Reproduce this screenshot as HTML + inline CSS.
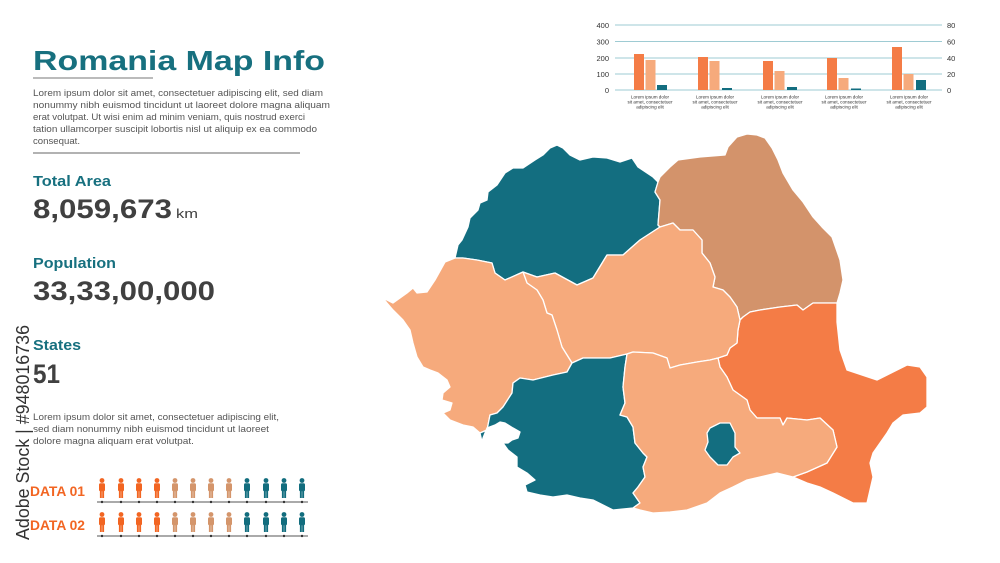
<!DOCTYPE html>
<html><head><meta charset="utf-8"><style>
html,body{margin:0;padding:0;background:#fff;}
svg{display:block;}
text{font-family:"Liberation Sans",sans-serif;}
</style></head><body>
<svg width="1000" height="563" viewBox="0 0 1000 563" xmlns="http://www.w3.org/2000/svg">
<rect width="1000" height="563" fill="#fff"/>

<!-- Title -->
<text x="33" y="70" font-size="28" font-weight="bold" fill="#17707f" textLength="292" lengthAdjust="spacingAndGlyphs">Romania Map Info</text>
<line x1="33" y1="78" x2="153" y2="78" stroke="#777" stroke-width="1"/>
<g font-size="9.5" fill="#555">
<text x="33" y="96" textLength="290" lengthAdjust="spacingAndGlyphs">Lorem ipsum dolor sit amet, consectetuer adipiscing elit, sed diam</text>
<text x="33" y="108" textLength="297" lengthAdjust="spacingAndGlyphs">nonummy nibh euismod tincidunt ut laoreet dolore magna aliquam</text>
<text x="33" y="120" textLength="272" lengthAdjust="spacingAndGlyphs">erat volutpat. Ut wisi enim ad minim veniam, quis nostrud exerci</text>
<text x="33" y="132" textLength="284" lengthAdjust="spacingAndGlyphs">tation ullamcorper suscipit lobortis nisl ut aliquip ex ea commodo</text>
<text x="33" y="144" textLength="47" lengthAdjust="spacingAndGlyphs">consequat.</text>
</g>
<line x1="33" y1="153" x2="300" y2="153" stroke="#666" stroke-width="1"/>

<!-- Stats -->
<text x="33" y="186" font-size="15" font-weight="bold" fill="#17707f" textLength="78" lengthAdjust="spacingAndGlyphs">Total Area</text>
<text x="33" y="218" font-size="27" font-weight="bold" fill="#404040" textLength="139" lengthAdjust="spacingAndGlyphs">8,059,673</text>
<text x="176" y="218" font-size="13" fill="#404040" textLength="22" lengthAdjust="spacingAndGlyphs">km</text>
<text x="33" y="268" font-size="15" font-weight="bold" fill="#17707f" textLength="83" lengthAdjust="spacingAndGlyphs">Population</text>
<text x="33" y="300" font-size="27" font-weight="bold" fill="#404040" textLength="182" lengthAdjust="spacingAndGlyphs">33,33,00,000</text>
<text x="33" y="350" font-size="15" font-weight="bold" fill="#17707f" textLength="48" lengthAdjust="spacingAndGlyphs">States</text>
<text x="33" y="383" font-size="27" font-weight="bold" fill="#404040" textLength="27" lengthAdjust="spacingAndGlyphs">51</text>
<g font-size="9.5" fill="#555">
<text x="33" y="420" textLength="246" lengthAdjust="spacingAndGlyphs">Lorem ipsum dolor sit amet, consectetuer adipiscing elit,</text>
<text x="33" y="432" textLength="236" lengthAdjust="spacingAndGlyphs">sed diam nonummy nibh euismod tincidunt ut laoreet</text>
<text x="33" y="444" textLength="161" lengthAdjust="spacingAndGlyphs">dolore magna aliquam erat volutpat.</text>
</g>

<!-- Data rows -->
<defs>
<g id="p">
<circle cx="0" cy="2.5" r="2.4"/>
<rect x="-3" y="5.3" width="6" height="8" rx="1.5"/>
<rect x="-2.1" y="11" width="1.9" height="9"/>
<rect x="0.2" y="11" width="1.9" height="9"/>
</g>
</defs>
<text x="30" y="496" font-size="13.5" font-weight="bold" fill="#f26522" textLength="55" lengthAdjust="spacingAndGlyphs">DATA 01</text>
<text x="30" y="530" font-size="13.5" font-weight="bold" fill="#f26522" textLength="55" lengthAdjust="spacingAndGlyphs">DATA 02</text>
<line x1="97" y1="502" x2="308" y2="502" stroke="#777" stroke-width="1.2"/>
<line x1="97" y1="536" x2="308" y2="536" stroke="#777" stroke-width="1.2"/>
<g>
<use href="#p" x="102" y="478" fill="#f26522"/><use href="#p" x="121" y="478" fill="#f26522"/><use href="#p" x="139" y="478" fill="#f26522"/><use href="#p" x="157" y="478" fill="#f26522"/>
<use href="#p" x="175" y="478" fill="#d4956b"/><use href="#p" x="193" y="478" fill="#d4956b"/><use href="#p" x="211" y="478" fill="#d4956b"/><use href="#p" x="229" y="478" fill="#d4956b"/>
<use href="#p" x="247" y="478" fill="#126d7e"/><use href="#p" x="266" y="478" fill="#126d7e"/><use href="#p" x="284" y="478" fill="#126d7e"/><use href="#p" x="302" y="478" fill="#126d7e"/>
<use href="#p" x="102" y="512" fill="#f26522"/><use href="#p" x="121" y="512" fill="#f26522"/><use href="#p" x="139" y="512" fill="#f26522"/><use href="#p" x="157" y="512" fill="#f26522"/>
<use href="#p" x="175" y="512" fill="#d4956b"/><use href="#p" x="193" y="512" fill="#d4956b"/><use href="#p" x="211" y="512" fill="#d4956b"/><use href="#p" x="229" y="512" fill="#d4956b"/>
<use href="#p" x="247" y="512" fill="#126d7e"/><use href="#p" x="266" y="512" fill="#126d7e"/><use href="#p" x="284" y="512" fill="#126d7e"/><use href="#p" x="302" y="512" fill="#126d7e"/>
</g>
<g fill="#333">
<circle cx="102" cy="502" r="1.2"/><circle cx="121" cy="502" r="1.2"/><circle cx="139" cy="502" r="1.2"/><circle cx="157" cy="502" r="1.2"/><circle cx="175" cy="502" r="1.2"/><circle cx="193" cy="502" r="1.2"/><circle cx="211" cy="502" r="1.2"/><circle cx="229" cy="502" r="1.2"/><circle cx="247" cy="502" r="1.2"/><circle cx="266" cy="502" r="1.2"/><circle cx="284" cy="502" r="1.2"/><circle cx="302" cy="502" r="1.2"/>
<circle cx="102" cy="536" r="1.2"/><circle cx="121" cy="536" r="1.2"/><circle cx="139" cy="536" r="1.2"/><circle cx="157" cy="536" r="1.2"/><circle cx="175" cy="536" r="1.2"/><circle cx="193" cy="536" r="1.2"/><circle cx="211" cy="536" r="1.2"/><circle cx="229" cy="536" r="1.2"/><circle cx="247" cy="536" r="1.2"/><circle cx="266" cy="536" r="1.2"/><circle cx="284" cy="536" r="1.2"/><circle cx="302" cy="536" r="1.2"/>
</g>

<!-- Vertical watermark -->
<text transform="translate(29,540) rotate(-90)" font-size="18" fill="#333" stroke="#fff" stroke-width="2.5" paint-order="stroke" textLength="215" lengthAdjust="spacingAndGlyphs">Adobe Stock | #948016736</text>

<!-- Bar chart -->
<g stroke="#9ecbd3" stroke-width="1">
<line x1="615" y1="25" x2="942" y2="25"/>
<line x1="615" y1="41.5" x2="942" y2="41.5"/>
<line x1="615" y1="58" x2="942" y2="58"/>
<line x1="615" y1="74" x2="942" y2="74"/>
<line x1="615" y1="90" x2="942" y2="90"/>
</g>
<g font-size="7.5" fill="#333" text-anchor="end">
<text x="609" y="28">400</text><text x="609" y="44.5">300</text><text x="609" y="61">200</text><text x="609" y="77">100</text><text x="609" y="93">0</text>
</g>
<g font-size="7.5" fill="#333">
<text x="947" y="28">80</text><text x="947" y="44.5">60</text><text x="947" y="61">40</text><text x="947" y="77">20</text><text x="947" y="93">0</text>
</g>
<g>
<rect x="634" y="54" width="10" height="36" fill="#f47c46"/><rect x="645.5" y="60" width="10" height="30" fill="#f6aa7c"/><rect x="657" y="85" width="10" height="5" fill="#136e80"/>
<rect x="698" y="57" width="10" height="33" fill="#f47c46"/><rect x="709.5" y="61" width="10" height="29" fill="#f6aa7c"/><rect x="722" y="88" width="10" height="2" fill="#136e80"/>
<rect x="763" y="61" width="10" height="29" fill="#f47c46"/><rect x="774.5" y="71" width="10" height="19" fill="#f6aa7c"/><rect x="787" y="87" width="10" height="3" fill="#136e80"/>
<rect x="827" y="58" width="10" height="32" fill="#f47c46"/><rect x="838.5" y="78" width="10" height="12" fill="#f6aa7c"/><rect x="851" y="88.5" width="10" height="1.5" fill="#136e80"/>
<rect x="892" y="47" width="10" height="43" fill="#f47c46"/><rect x="903.5" y="74" width="10" height="16" fill="#f6aa7c"/><rect x="916" y="80" width="10" height="10" fill="#136e80"/>
</g>
<g font-size="4.6" fill="#333" text-anchor="middle">
<text x="650" y="98.5">Lorem ipsum dolor</text><text x="650" y="103.5">sit amet, consectetuer</text><text x="650" y="108.5">adipiscing elit</text>
<text x="715" y="98.5">Lorem ipsum dolor</text><text x="715" y="103.5">sit amet, consectetuer</text><text x="715" y="108.5">adipiscing elit</text>
<text x="780" y="98.5">Lorem ipsum dolor</text><text x="780" y="103.5">sit amet, consectetuer</text><text x="780" y="108.5">adipiscing elit</text>
<text x="844" y="98.5">Lorem ipsum dolor</text><text x="844" y="103.5">sit amet, consectetuer</text><text x="844" y="108.5">adipiscing elit</text>
<text x="909" y="98.5">Lorem ipsum dolor</text><text x="909" y="103.5">sit amet, consectetuer</text><text x="909" y="108.5">adipiscing elit</text>
</g>

<!-- Map -->
<g stroke="#fff" stroke-width="1.3" stroke-linejoin="round">
<!-- North teal -->
<polygon fill="#136e80" points="455,258 458,245 462,240 468,227 470,218 478,210 480,203 487,200 488,192 497,185 505,173 513,168 523,168 535,160 543,155 550,148 557,145 563,148 570,155 580,160 593,157 607,158 620,162 632,158 638,167 647,173 653,177 658,182 655,192 660,200 658,225 660,227 640,240 623,255 607,255 593,278 577,285 555,273 537,277 523,272 505,280 495,273 492,263 477,260 463,258"/>
<!-- Brown -->
<polygon fill="#d3936b" points="658,182 660,177 670,167 678,160 700,157 725,155 728,147 737,137 747,134 757,135 765,138 772,148 778,160 783,173 793,190 803,202 813,217 822,227 832,237 840,260 843,280 840,293 837,303 813,303 803,310 797,305 780,307 760,310 750,312 743,317 740,320 737,307 730,297 723,290 713,287 715,277 710,263 702,253 702,240 693,230 680,230 673,223 660,227 658,225 660,200 655,192"/>
<!-- Orange -->
<polygon fill="#f47c46" points="740,320 743,317 750,312 760,310 780,307 797,305 803,310 813,303 837,303 837,322 840,350 847,370 877,380 887,375 907,365 920,367 927,377 927,407 920,413 903,415 893,423 887,433 873,453 870,463 873,477 870,490 867,503 853,503 833,493 820,487 807,483 793,477 807,472 827,463 837,447 833,430 820,418 807,420 787,418 783,425 780,418 757,418 750,410 747,400 733,390 727,377 720,367 718,358 727,355 730,348 737,343 738,330"/>
<!-- Center light -->
<polygon fill="#f6aa7c" points="523,272 537,277 555,273 577,285 593,278 607,255 623,255 640,240 660,227 673,223 680,230 693,230 702,240 702,253 710,263 715,277 713,287 723,290 730,297 737,307 740,320 738,330 737,343 730,348 727,355 718,358 710,360 697,362 680,365 670,368 667,358 653,353 633,352 627,354 610,358 583,358 572,363 562,347 557,330 552,315 547,313 543,300 537,290 527,283"/>
<!-- West light -->
<polygon fill="#f6aa7c" points="383,298 393,303 400,298 407,293 413,288 417,293 427,292 435,280 445,262 455,258 463,258 477,260 492,263 495,273 505,280 523,272 527,283 537,290 543,300 547,313 552,315 557,330 562,347 572,363 567,372 553,375 533,380 520,378 513,383 512,393 503,407 497,413 490,415 487,430 480,433 473,427 463,425 450,420 443,413 450,410 452,403 442,400 443,393 450,387 447,380 438,373 430,370 423,367 417,357 413,343 410,330 403,320 393,310 387,303"/>
<!-- South teal -->
<polygon fill="#136e80" points="572,363 583,358 610,358 627,354 625,367 623,387 625,403 620,415 627,417 633,427 635,443 643,453 647,457 643,467 645,477 638,487 633,493 640,503 633,508 613,510 593,500 580,498 567,495 553,497 540,495 527,492 525,485 535,480 527,473 517,467 517,457 508,450 503,443 508,443 512,440 518,438 520,432 513,428 505,423 500,422 495,425 487,428 483,438 482,442 480,433 487,430 490,415 497,413 503,407 512,393 513,383 520,378 533,380 553,375 567,372"/>
<!-- South light -->
<polygon fill="#f6aa7c" points="627,354 633,352 653,353 667,358 670,368 680,365 697,362 710,360 718,358 720,367 727,377 733,390 747,400 750,410 757,418 780,418 783,425 787,418 807,420 820,418 833,430 837,447 827,463 807,472 793,477 777,473 760,477 747,480 733,487 720,493 707,503 687,510 670,512 653,513 640,510 633,508 640,503 633,493 638,487 645,477 643,467 647,457 643,453 635,443 633,427 627,417 620,415 625,403 623,387 625,367"/>
<!-- Bucharest -->
<polygon fill="#136e80" points="707,433 710,428 720,423 730,423 735,433 735,447 740,453 733,457 727,465 718,465 710,457 705,450 708,442"/>
</g>
</svg>
</body></html>
